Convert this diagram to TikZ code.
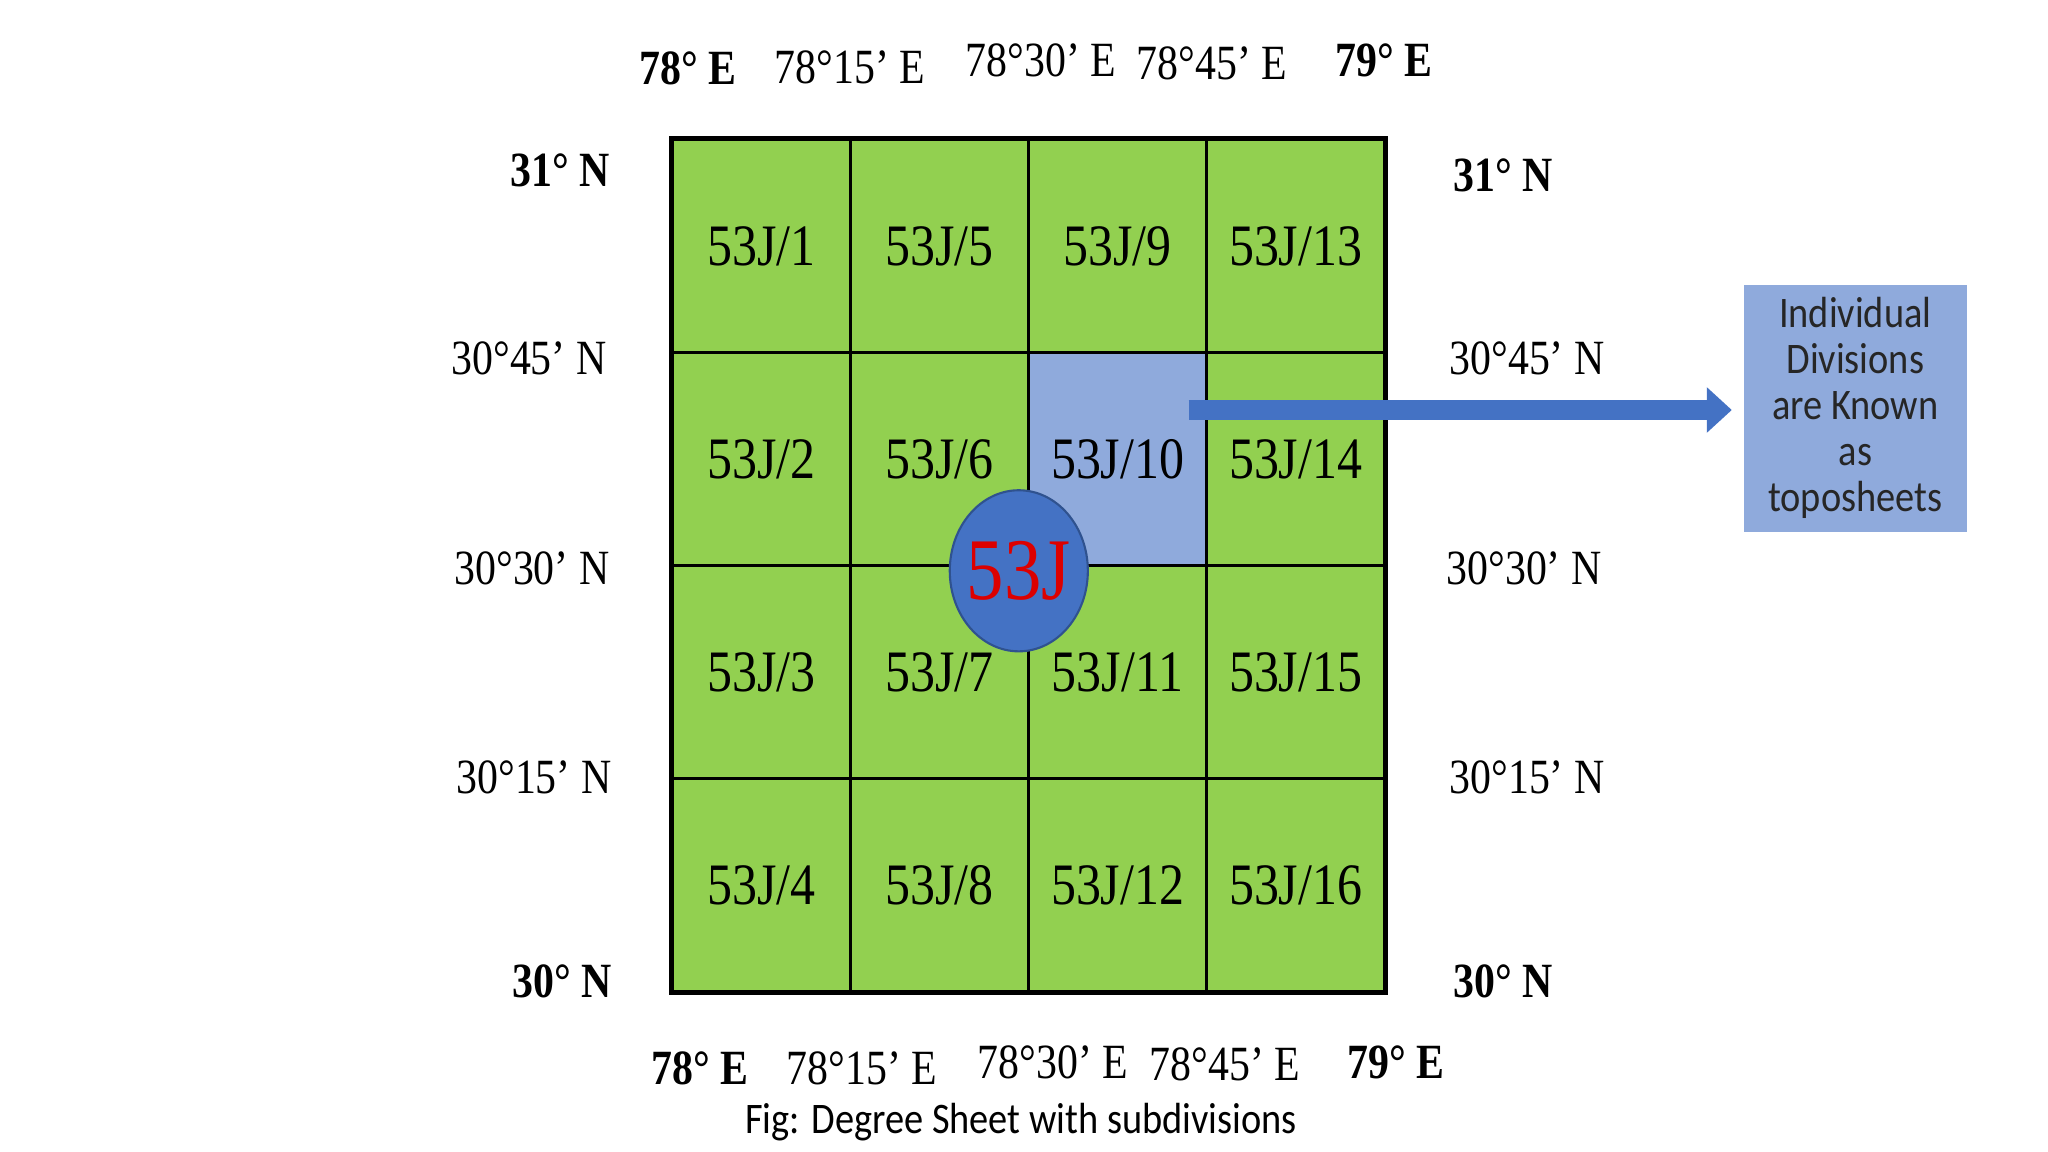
\documentclass[tikz,border=0pt]{standalone}
\usepackage{fontspec}
\setmainfont{Liberation Serif}[FakeStretch=0.85]
\newfontfamily\notefont{Carlito}[FakeStretch=0.88]
\usetikzlibrary{shapes.geometric,arrows.meta}
\definecolor{sheetgreen}{RGB}{146,208,80}
\definecolor{paleblue}{RGB}{143,170,220}
\definecolor{darkblue}{RGB}{68,114,196}
\definecolor{edgeblue}{RGB}{47,82,143}
\definecolor{sheetred}{RGB}{220,0,0}

\begin{document}
\begin{tikzpicture}[x=0.01cm,y=-0.01cm,
    cell/.style={draw=black,line width=0.9pt,fill=sheetgreen,minimum width=1.78cm,
      minimum height=2.129cm,inner sep=0pt,font=\fontsize{16.7}{18}\selectfont},
    tick/.style={inner sep=0pt,font=\fontsize{14}{16}\selectfont},
    boldtick/.style={inner sep=0pt,font=\fontsize{14}{16}\selectfont\bfseries}]
    \path[use as bounding box] (0,0) rectangle (2048,1152);
    % the sixteen toposheets
    \foreach \c in {0,...,3}
      \foreach \r in {0,...,3}{
        \pgfmathtruncatemacro{\n}{4*\c+\r+1}
        \node[cell] (c\n) at ({761.6+178*\c},{246.3+212.9*\r}) {53J/\n};
      }
    \node[cell,fill=paleblue] (c10) at (c10.center) {53J/10};
    \draw[line width=1pt] (c1.north west) rectangle (c16.south east);
    % degree sheet
    \node[ellipse,fill=darkblue,draw=edgeblue,line width=0.6pt,minimum width=1.38cm,
      minimum height=1.61cm,inner sep=0pt,text=sheetred,
      font=\fontsize{25}{28}\selectfont] (deg) at (1018.8,570.8) {\makebox[0pt]{53J}};
    % note
    \node[fill=paleblue,minimum width=2.234cm,minimum height=2.469cm,align=center,
      text=black!85,font=\notefont\fontsize{12.4}{13.1}\selectfont] (note) at (1855.3,408.2)
      {\raisebox{-2.6\dimexpr0.01cm\relax}{}Individual\\Divisions\\are Known\\as\\toposheets};
    \coordinate (astart) at (1188.6,410);
    \draw[darkblue,line width=0.2cm,shorten >=0.11cm,
      -{Triangle[width=0.44cm,length=0.25cm]}] (astart) -- (astart -| note.west);
    % longitudes
    \node[boldtick] (lt0) at (688,68) {78° E};
    \node[tick] (lt15) at (850,67) {78°15’ E};
    \node[tick] (lt30) at (1041,60) {78°30’ E};
    \node[tick] (lt45) at (1212,63) {78°45’ E};
    \node[boldtick] (lt60) at (1384,60) {79° E};
    \node[boldtick] (lb0) at (700,1068) {78° E};
    \node[tick] (lb15) at (862,1068) {78°15’ E};
    \node[tick] (lb30) at (1053,1062) {78°30’ E};
    \node[tick] (lb45) at (1225,1064) {78°45’ E};
    \node[boldtick] (lb60) at (1396,1062) {79° E};
    % latitudes
    \node[boldtick] (ll60) at (560,170) {31° N};
    \node[tick] (ll45) at (529,358) {30°45’ N};
    \node[tick] (ll30) at (532,568) {30°30’ N};
    \node[tick] (ll15) at (534,777) {30°15’ N};
    \node[boldtick] (ll0) at (562,981) {30° N};
    \node[boldtick] (lr60) at (1503,175) {31° N};
    \node[tick] (lr45) at (1527,358) {30°45’ N};
    \node[tick] (lr30) at (1524,568) {30°30’ N};
    \node[tick] (lr15) at (1527,777) {30°15’ N};
    \node[boldtick] (lr0) at (1503,981) {30° N};
    % caption
    \node[inner sep=0pt,font=\notefont\fontsize{12.4}{14}\selectfont] (cap) at (1021,1122)
      {Fig: Degree Sheet with subdivisions};
\end{tikzpicture}
\end{document}
